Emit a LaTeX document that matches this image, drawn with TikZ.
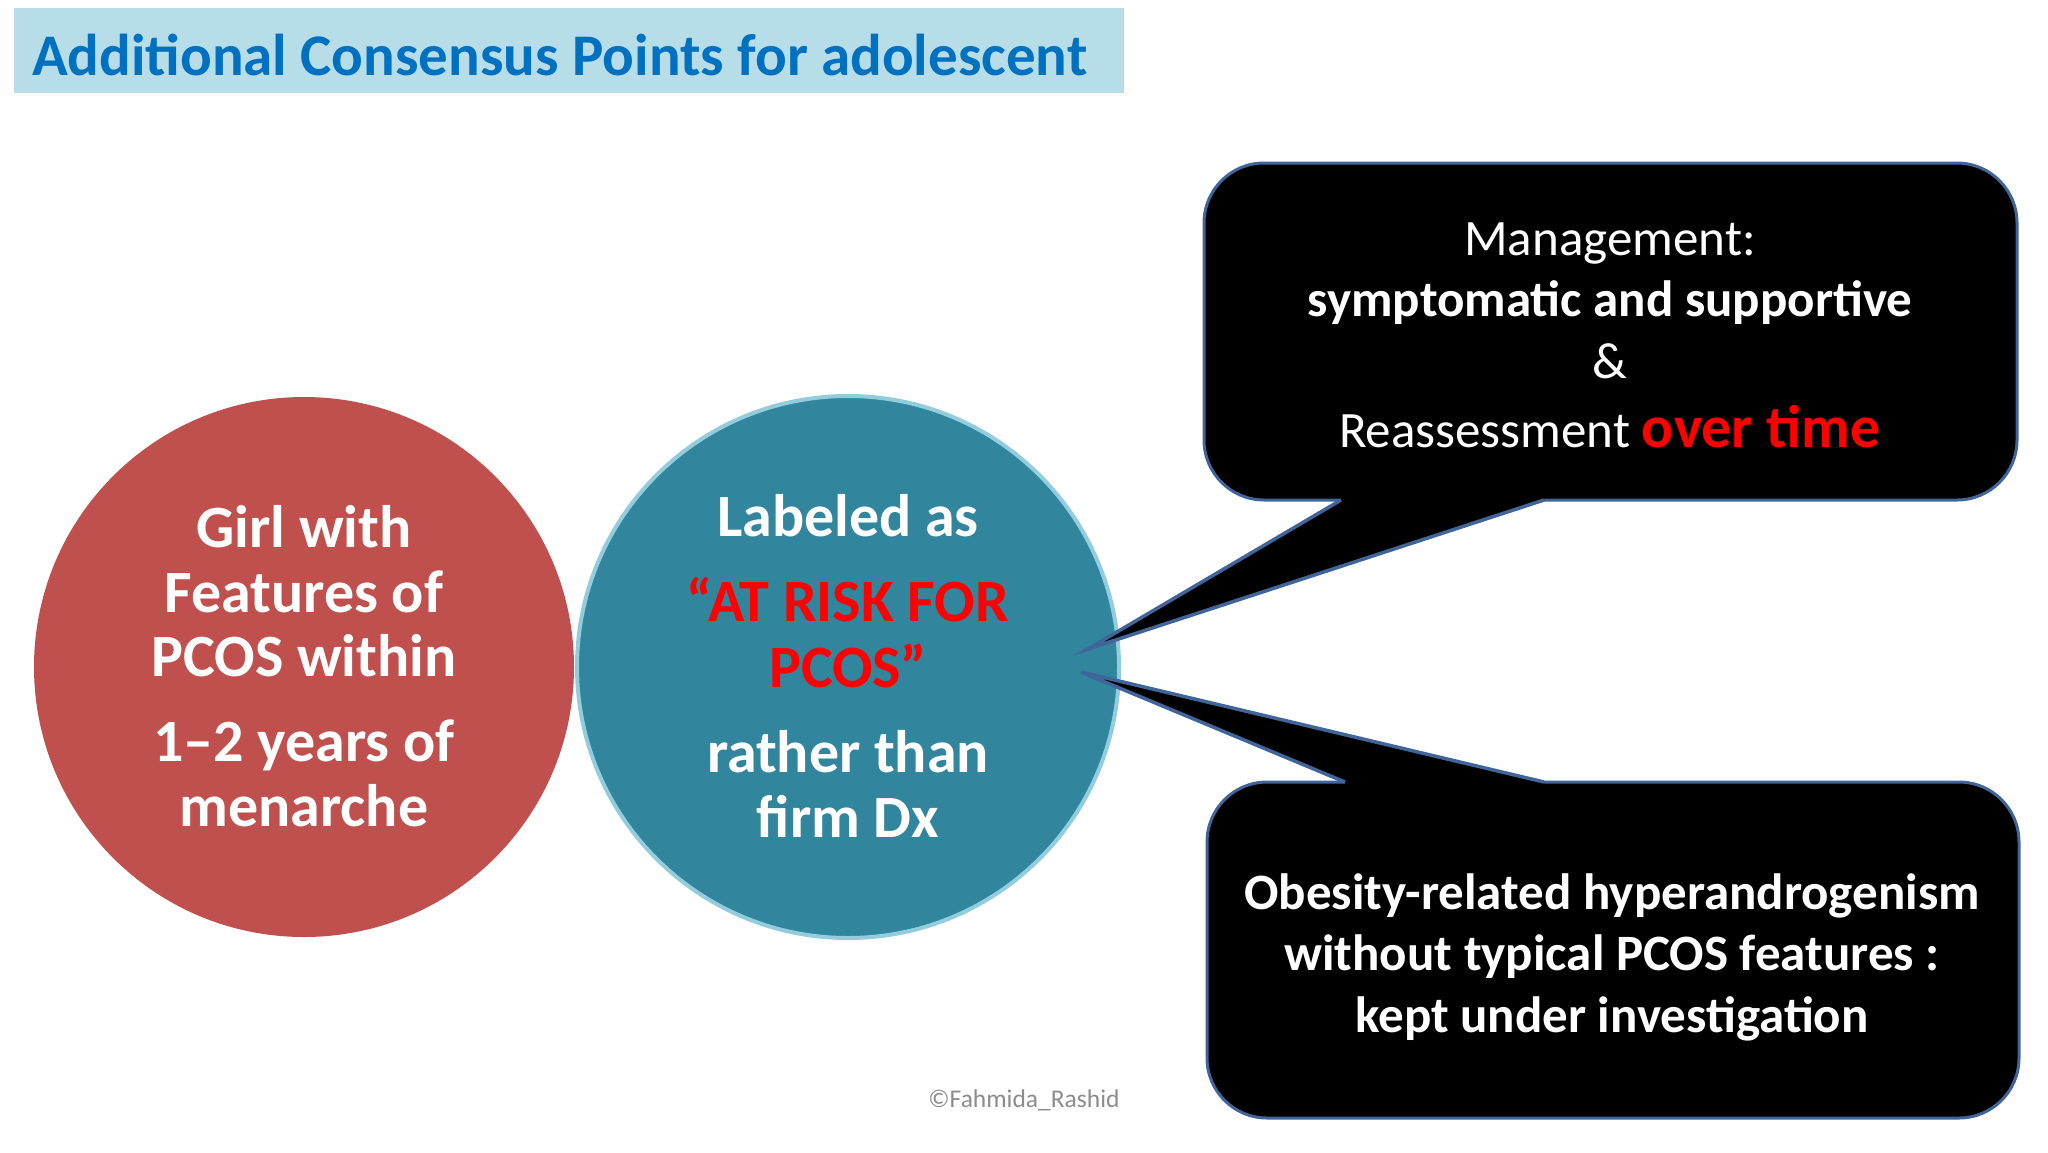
\documentclass[tikz,border=0pt]{standalone}
\usepackage{fontspec}
\setmainfont{Carlito}
\definecolor{titlebg}{HTML}{B7DEE8}
\definecolor{titlefg}{HTML}{0070C0}
\definecolor{redc}{HTML}{C0504D}
\definecolor{tealc}{HTML}{31859C}
\definecolor{tealb}{HTML}{93CDDD}
\definecolor{callb}{HTML}{41649B}
\definecolor{hired}{HTML}{FF0000}
\definecolor{wmgray}{HTML}{8C8C8C}
\tikzset{
  circtext/.style={text=white, font=\fontsize{60}{66}\selectfont\bfseries, anchor=base, inner sep=0pt},
  calltext/.style={text=white, anchor=base, inner sep=0pt},
  callbox/.style={fill=black, draw=callb, line width=3pt, rounded corners=60pt},
  calledge/.style={draw=callb, line width=3.5pt, line join=miter},
}
\begin{document}
\begin{tikzpicture}[x=1pt,y=-1pt]
\useasboundingbox (0,0) rectangle (2048,1152);
\fill[white] (0,0) rectangle (2048,1152);
% title
\fill[titlebg] (14,8) rectangle (1124,93);
\node[anchor=west, inner sep=0pt, text=titlefg, font=\fontsize{59}{66}\selectfont\bfseries] (title) at (32,55) {Additional Consensus Points for adolescent};
% circles
\node[circle, fill=redc, minimum size=540pt, inner sep=0pt] (girl) at (304,667) {};
\node[circle, fill=tealc, draw=tealb, line width=4pt, minimum size=542pt, inner sep=0pt] (label) at (848,667) {};
% red circle text
\node[circtext] (g1) at (304,547) {Girl with};
\node[circtext] (g2) at (304,612) {Features of};
\node[circtext] (g3) at (304,676) {PCOS within};
\node[circtext] (g4) at (304,761) {1–2 years of};
\node[circtext] (g5) at (304,826) {menarche};
% teal circle text
\node[circtext] (l1) at (848,536) {Labeled as};
\node[circtext, text=hired] (l2) at (848,621) {“AT RISK FOR};
\node[circtext, text=hired] (l3) at (848,687) {PCOS”};
\node[circtext] (l4) at (848,772) {rather than};
\node[circtext] (l5) at (848,837) {firm Dx};
% top callout
\coordinate (tipA) at (1088,649);
\coordinate (baseA1) at (1341,500);
\coordinate (baseA2) at (1544,500);
\path[callbox] (1204,163) rectangle (2017,500);
\fill[black] (1341,495) -- (baseA1) -- (tipA) -- (baseA2) -- (1544,495) -- cycle;
\draw[calledge] (baseA1) -- (tipA) -- (baseA2);
% bottom callout
\coordinate (tipB) at (1081,672);
\coordinate (baseB1) at (1345,782);
\coordinate (baseB2) at (1544,782);
\path[callbox] (1207,782) rectangle (2019,1118);
\fill[black] (1345,787) -- (baseB1) -- (tipB) -- (baseB2) -- (1544,787) -- cycle;
\draw[calledge] (baseB1) -- (tipB) -- (baseB2);
% top callout text
\node[calltext, font=\fontsize{51}{56}\selectfont] (m1) at (1610,255) {Management:};
\node[calltext, font=\fontsize{51}{56}\selectfont\bfseries] (m2) at (1610,316) {symptomatic and supportive};
\node[calltext, font=\fontsize{51}{56}\selectfont] (m3) at (1610,378) {\&};
\node[calltext, font=\fontsize{51}{56}\selectfont] (m4) at (1610,447) {Reassessment {\fontsize{60}{64}\selectfont\bfseries\color{hired}over time}};
% bottom callout text
\node[calltext, font=\fontsize{51}{56}\selectfont\bfseries] (o1) at (1612,909) {Obesity-related hyperandrogenism};
\node[calltext, font=\fontsize{51}{56}\selectfont\bfseries] (o2) at (1612,970) {without typical PCOS features :};
\node[calltext, font=\fontsize{51}{56}\selectfont\bfseries] (o3) at (1612,1032) {kept under investigation};
% watermark
\node[inner sep=0pt, text=wmgray, font=\fontsize{25.5}{28}\selectfont] (wm) at (1024,1100) {©Fahmida\_Rashid};
\end{tikzpicture}
\end{document}
